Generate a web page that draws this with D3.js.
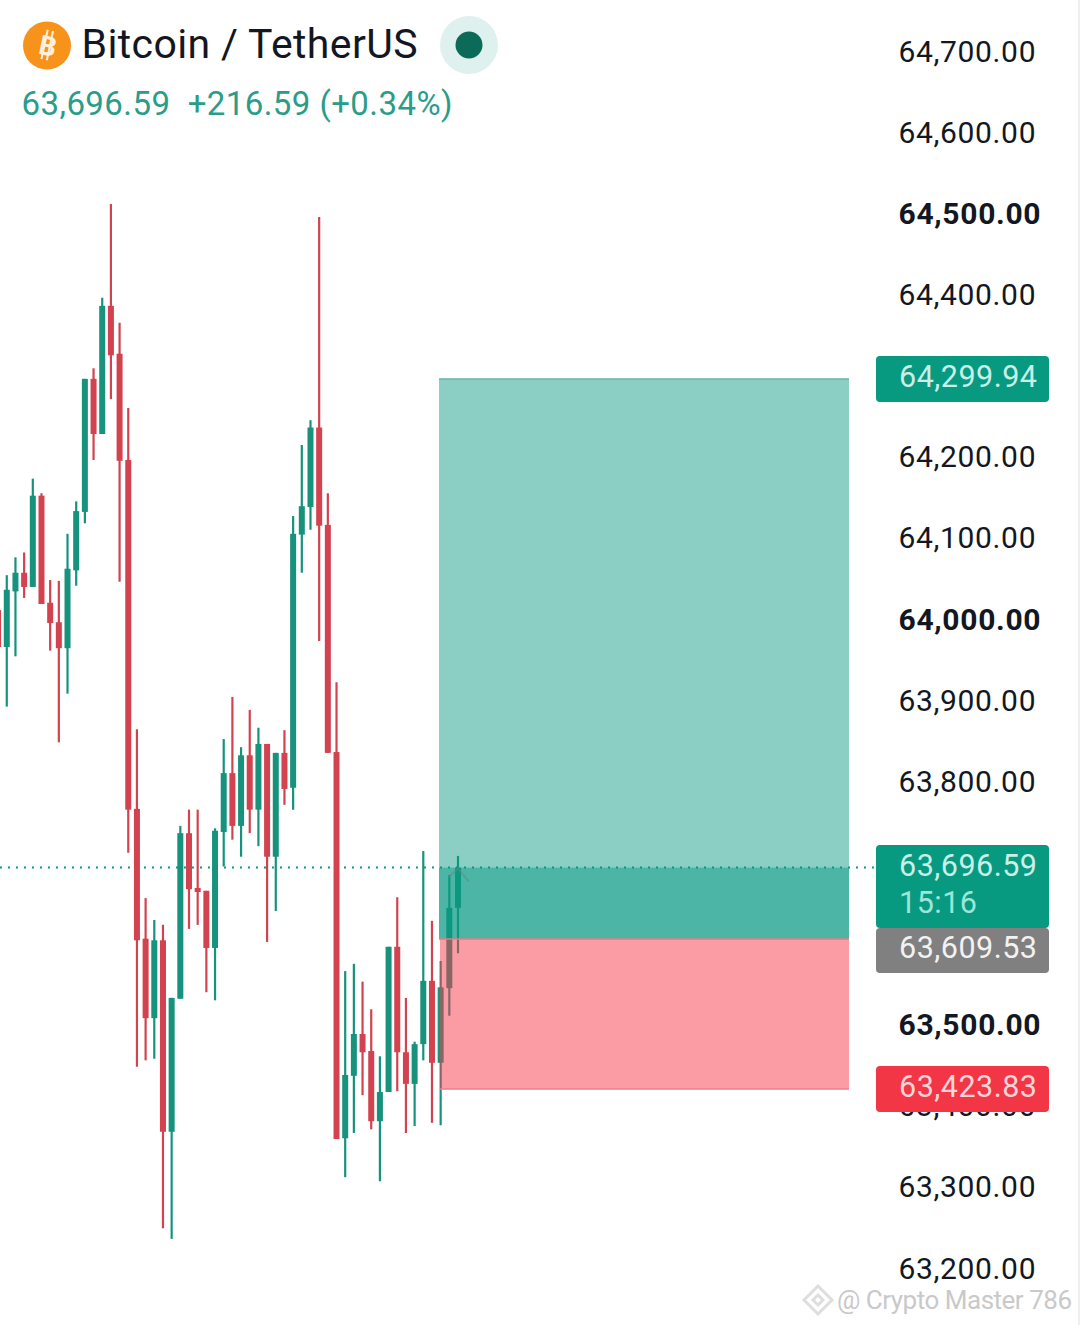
<!DOCTYPE html>
<html><head><meta charset="utf-8">
<script src="https://cdn.jsdelivr.net/npm/d3@7/dist/d3.min.js"></script>
<style>html,body{margin:0;padding:0;background:#fff;overflow:hidden}svg{display:block}text{font-family:Roboto,sans-serif}</style>
</head><body><div id="c"></div>
<script>
const highs=[64014,64057,64079,64085,64176,64158,64051,64050,64108,64148,64299,64312,64399,64514.5,64368,64263,63867,63659,63632,63626,63536,63748,63768,63768,63668,63745,63855,63907,63845,63891,63869,63849,63838,63866,64130,64217.5,64248,64498.5,64158,63925,63569,63578,63556,63522,63464,63599,63660,63536,63482,63717,63631,63581.5,63687.5,63711];
const opens=[64014,63968.5,64037,64060,64042.5,64155,64023,63999,63967,64063,64135,64299,64231,64389,64330,64199,63769,63609,63511,63607,63371,63535,63739,63671.5,63668,63597.5,63740.5,63813,63748,63835,63768,63849,63710,63838,63795,64107,64141,64239,64119,63839,63363,63440,63491.5,63470.5,63384,63420,63599,63469,63430,63479,63557,63456,63548,63647];
const closes=[63968.5,64039,64060,64042.5,64155,64021.5,63998,63967,64065,64136,64299,64231,64389,64328,64198,63768,63607,63511,63607,63371,63536,63739,63670,63666.5,63597.5,63742,63813,63748,63835,63768,63849,63710,63838,63793.5,64108,64142,64239,64118,63838,63362,63441,63491.5,63469,63384,63420,63599,63469,63430,63479,63557,63456,63549,63647,63696.59];
const lows=[63968.5,63895,63957,64029,64042.5,64021.5,63964,63851,63911,64044,64121,64199,64231,64274,64049,63715,63451,63459,63461,63252,63239,63535,63621,63626,63543,63533,63698,63731,63710,63739,63723,63605,63643,63774,63768,64060,64113,63976,63838,63362,63315,63369.5,63416,63374,63310,63420,63421,63369.5,63378,63459,63382,63379,63514,63591];
const tickValues=[64700,64600,64500,64400,64200,64100,64000,63900,63800,63500,63400,63300,63200];
const boldTicks=[64500,64000,63500];
const lastPrice=63696.59, targetPrice=64299.94, entryPrice=63609.53, stopPrice=63423.83;
const titleText="Bitcoin / TetherUS", quoteText="63,696.59\u00a0\u00a0+216.59 (+0.34%)", countdown="15:16", watermark="@ Crypto Master 786";

const W=1080,H=1325,UP="#17927d",DOWN="#d2434f",TV="#089981";
const svg=d3.select("#c").append("svg").attr("width",W).attr("height",H);
const y=d3.scaleLinear().domain([64700,63200]).range([53.5,1270.5]);
const x=d3.scaleLinear().domain([0,53]).range([-1.9,458]);
const fmt=d3.format(",.2f");
const idx=d3.range(highs.length);

// right edge strip
svg.append("rect").attr("x",1078).attr("y",0).attr("width",2).attr("height",H).attr("fill","#efefef");

// last-price dotted line
svg.append("line").attr("x1",0).attr("x2",876).attr("y1",y(lastPrice)).attr("y2",y(lastPrice))
  .attr("stroke",TV).attr("stroke-width",2).attr("stroke-dasharray","2 6");

// candles
const g=svg.append("g");
const col=i=>closes[i]>=opens[i]?UP:DOWN;
g.selectAll("line.w").data(idx).join("line").attr("class","w")
  .attr("x1",x).attr("x2",x).attr("y1",i=>y(highs[i])).attr("y2",i=>y(lows[i]))
  .attr("stroke",col).attr("stroke-width",2.2);
g.selectAll("rect.b").data(idx).join("rect").attr("class","b")
  .attr("x",i=>x(i)-3).attr("width",6)
  .attr("y",i=>y(Math.max(opens[i],closes[i])))
  .attr("height",i=>Math.max(2,Math.abs(y(opens[i])-y(closes[i]))))
  .attr("fill",col);

// position zones
const zx=439,zw=410,zs=0.8;
svg.append("rect").attr("x",zx).attr("width",zw).attr("y",y(targetPrice)+zs).attr("height",y(entryPrice)-y(targetPrice)).attr("fill",TV).attr("opacity",.47);
svg.append("rect").attr("x",zx).attr("width",zw).attr("y",y(lastPrice)).attr("height",y(entryPrice)-y(lastPrice)+zs).attr("fill",TV).attr("opacity",.47);
svg.append("rect").attr("x",zx+1).attr("width",zw-1).attr("y",y(entryPrice)+zs).attr("height",y(stopPrice)-y(entryPrice)-zs).attr("fill","#f73a4c").attr("opacity",.5);
svg.append("line").attr("x1",zx).attr("x2",zx+zw).attr("y1",y(targetPrice)+zs).attr("y2",y(targetPrice)+zs).attr("stroke","#5fb8a8").attr("stroke-width",1.5);
svg.append("line").attr("x1",zx).attr("x2",zx+zw).attr("y1",y(entryPrice)+zs).attr("y2",y(entryPrice)+zs).attr("stroke","#d8808a").attr("stroke-width",1.5);
svg.append("line").attr("x1",zx+1).attr("x2",zx+zw).attr("y1",y(stopPrice)).attr("y2",y(stopPrice)).attr("stroke","#ec7c88").attr("stroke-width",1.5);

// cursor chevron near last candle
svg.append("path").attr("d",d3.line()([[x(53)-10,y(lastPrice)+10],[x(53),y(lastPrice)+1],[x(53)+11,y(lastPrice)+14]]))
  .attr("fill","none").attr("stroke","#5a8f85").attr("stroke-width",2).attr("opacity",.55);

// price axis
const axis=d3.axisRight(y).tickValues(tickValues).tickSize(0).tickPadding(0).tickFormat(fmt);
const ag=svg.append("g").attr("transform","translate(898.5,-2)").call(axis);
ag.select(".domain").remove();
ag.selectAll("text").attr("x",0).attr("dy","0.32em")
  .attr("font-size",30).attr("fill","#131722")
  .style("font-family","Roboto,sans-serif")
  .attr("font-weight",d=>boldTicks.includes(d)?700:400)
  .attr("textLength",d=>boldTicks.includes(d)?142:137).attr("lengthAdjust","spacing");

// price tags
function tag(top,h,fill,lines){
  svg.append("rect").attr("x",876).attr("y",top).attr("width",173).attr("height",h).attr("rx",4).attr("fill",fill);
  lines.forEach(l=>svg.append("text").attr("x",899).attr("y",l.y).attr("font-size",30.5).attr("fill",l.c||"#e4f5f1").attr("textLength",l.len||138).attr("lengthAdjust","spacing").text(l.t));
}
tag(356,46,TV,[{t:fmt(targetPrice),y:387,c:"#c9efe7"}]);
tag(845,83,TV,[{t:fmt(lastPrice),y:876,c:"#c9efe7"},{t:countdown,y:913,c:"#9be6d8",len:78}]);
tag(928,45,"#808080",[{t:fmt(entryPrice),y:958,c:"#f2f2f2"}]);
tag(1066,46,"#f23645",[{t:fmt(stopPrice),y:1097,c:"#fbd4d9"}]);

// header
svg.append("circle").attr("cx",47).attr("cy",45.5).attr("r",24).attr("fill","#f7931a");
const coin=svg.append("g").attr("transform","rotate(12 47 45)");
coin.append("text").attr("x",48).attr("y",45.5).attr("dy","0.36em").attr("text-anchor","middle")
  .attr("font-size",27).attr("font-weight",700).attr("fill","#fff0dc").text("B");
coin.selectAll("line").data([44.5,50]).join("line").attr("x1",d=>d).attr("x2",d=>d).attr("y1",30).attr("y2",60).attr("stroke","#fff0dc").attr("stroke-width",2);
svg.append("text").attr("x",81.5).attr("y",58).attr("font-size",41).attr("fill","#131722").attr("textLength",336).attr("lengthAdjust","spacing").text(titleText);
svg.append("circle").attr("cx",469).attr("cy",45).attr("r",29).attr("fill","#dff1ee");
svg.append("circle").attr("cx",469).attr("cy",45).attr("r",13.5).attr("fill","#0b6b58");
svg.append("text").attr("x",21.5).attr("y",115).attr("font-size",33).attr("fill","#2a9d8a").attr("textLength",431).attr("lengthAdjust","spacing").text(quoteText);

// watermark
svg.append("g").attr("transform","translate(818,1300)").attr("fill","none").attr("stroke","#dedede").attr("stroke-width",3)
  .call(s=>{s.append("path").attr("d","M0,-14L14,0L0,14L-14,0Z");s.append("path").attr("d","M0,-5L5,0L0,5L-5,0Z");});
svg.append("text").attr("x",837).attr("y",1309).attr("font-size",26).attr("fill","#c9c9c9").attr("textLength",235).attr("lengthAdjust","spacing").text(watermark);
</script></body></html>
